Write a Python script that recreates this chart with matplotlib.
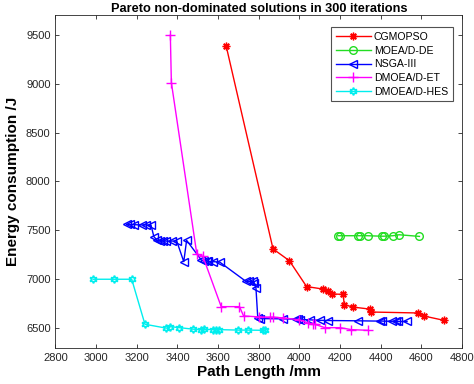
# Pareto fronts of the five algorithms after 300 iterations
import matplotlib
matplotlib.use('Agg')
import matplotlib.pyplot as plt

plt.rcParams['font.family'] = ['Liberation Sans', 'DejaVu Sans']

# CGMOPSO
cg_x = [3640, 3870, 3950, 4035, 4115, 4140, 4160, 4215, 4220, 4265, 4345, 4350, 4585, 4610, 4710]
cg_y = [9380, 7310, 7190, 6925, 6900, 6880, 6850, 6845, 6740, 6715, 6695, 6665, 6655, 6625, 6580]

# MOEA/D-DE
de_x = [4190, 4200, 4290, 4300, 4335, 4405, 4415, 4460, 4490, 4590]
de_y = [7445, 7445, 7445, 7445, 7445, 7440, 7440, 7445, 7455, 7438]

# NSGA-III
ns_x = [3150, 3166, 3185, 3225, 3245, 3270, 3284, 3300, 3313, 3330, 3346, 3372, 3396, 3431,
        3445, 3518, 3531, 3543, 3551, 3575, 3608, 3737, 3753, 3770, 3778, 3786, 3795, 3805,
        3919, 3985, 3995, 4005, 4050, 4100, 4140, 4288, 4395, 4408, 4457, 4473, 4485, 4529]
ns_y = [7560, 7560, 7558, 7555, 7555, 7552, 7435, 7400, 7395, 7392, 7390, 7390, 7392, 7180,
        7398, 7195, 7190, 7185, 7183, 7180, 7175, 6978, 6978, 6978, 6962, 6910, 6603, 6598,
        6595, 6592, 6590, 6588, 6585, 6580, 6578, 6575, 6572, 6572, 6570, 6568, 6568, 6568]

# DMOEA/D-ET
et_x = [3365, 3370, 3495, 3525, 3615, 3705, 3725, 3800, 3855, 3870, 3920, 4000, 4040, 4065,
        4075, 4125, 4200, 4255, 4335]
et_y = [9495, 9010, 7260, 7235, 6720, 6720, 6625, 6615, 6612, 6612, 6605, 6585, 6555, 6540,
        6540, 6505, 6505, 6485, 6478]

# DMOEA/D-HES
hes_x = [2985, 3090, 3175, 3240, 3345, 3365, 3410, 3475, 3515, 3530, 3575, 3590, 3605, 3700,
         3745, 3820, 3830]
hes_y = [7000, 7000, 7000, 6540, 6500, 6515, 6505, 6490, 6485, 6488, 6485, 6485, 6485, 6480,
         6480, 6478, 6478]

fig = plt.figure(figsize=(4.74, 3.84), dpi=100)
ax = fig.add_axes([0.117, 0.0945, 0.858, 0.866])

ms = 5.5
ax.plot(cg_x, cg_y, color='#FF0000', lw=1, marker=(8, 2, 0), ms=ms, mew=1, label='CGMOPSO')
ax.plot(de_x, de_y, color='#22DD22', lw=1, marker='o', ms=ms, mfc='none', mew=1, label='MOEA/D-DE')
ax.plot(ns_x, ns_y, color='#0000FF', lw=1, marker='<', ms=ms, mfc='none', mew=1, label='NSGA-III')
ax.plot(et_x, et_y, color='#FF00FF', lw=1, marker='+', ms=ms + 1, mew=1, label='DMOEA/D-ET')
ax.plot(hes_x, hes_y, color='#00EEEE', lw=1, marker=(6, 1, 0), ms=ms, mfc='none', mew=1.2,
        label='DMOEA/D-HES')

ax.set_xlim(2800, 4800)
ax.set_ylim(6300, 9700)
ax.set_xticks(range(2800, 4801, 200))
ax.set_yticks(range(6500, 9501, 500))
ax.tick_params(direction='in', top=True, right=True, labelsize=8, length=3,
               colors='#262626', width=0.6)
for s in ax.spines.values():
    s.set_color('#262626')
    s.set_linewidth(0.6)

ax.set_title('Pareto non-dominated solutions in 300 iterations', fontsize=9.2,
             fontweight='bold', pad=2)
ax.set_xlabel('Path Length /mm', fontsize=11, fontweight='bold', labelpad=2)
ax.set_ylabel('Energy consumption /J', fontsize=11, fontweight='bold', labelpad=4)

leg = ax.legend(loc='upper right', fontsize=7.6, frameon=True, fancybox=False,
                edgecolor='#262626', handlelength=3.3, borderpad=0.45, labelspacing=0.35,
                handletextpad=0.3, bbox_to_anchor=(0.99, 0.98))
leg.get_frame().set_linewidth(0.8)

plt.savefig('out.png', dpi=100)
